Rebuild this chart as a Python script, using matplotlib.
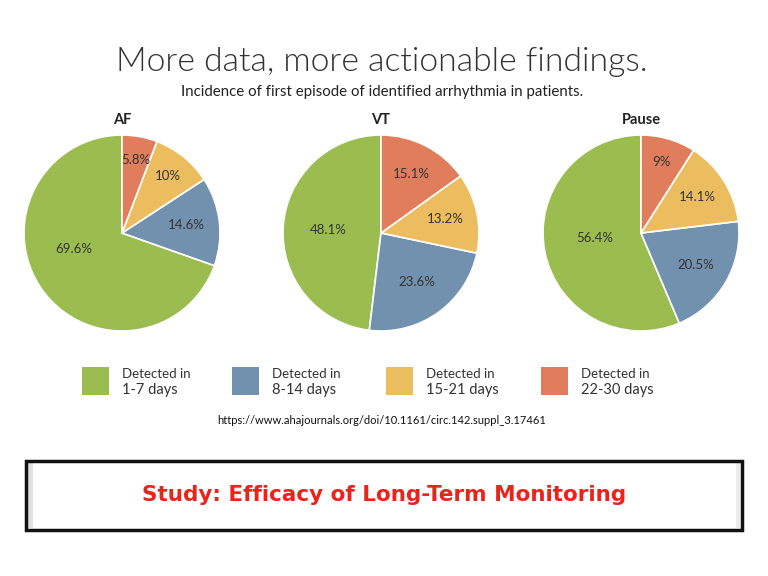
import matplotlib
matplotlib.use("Agg")
import matplotlib.pyplot as plt
from matplotlib.patches import Rectangle
import numpy as np

# ---- data ----
charts = ["AF", "VT", "Pause"]
categories = ["1-7 days", "8-14 days", "15-21 days", "22-30 days"]
af_values = [69.6, 14.6, 10, 5.8]
vt_values = [48.1, 23.6, 13.2, 15.1]
pause_values = [56.4, 20.5, 14.1, 9]
all_values = [af_values, vt_values, pause_values]

colors = ["#9bbd4f", "#7291ae", "#ebbd5e", "#e07d5c"]
label_dist = [[0.52, 0.66, 0.75, 0.76],
              [0.54, 0.62, 0.67, 0.68],
              [0.48, 0.65, 0.68, 0.75]]
label_shift = [[-17, 0, 0, 0],
               [0, 0, 0, 0],
               [-5, 0, 0, 0]]

W, H = 768, 576
fig = plt.figure(figsize=(W / 100, H / 100), dpi=100)
fig.patch.set_facecolor("white")

def fx(x):
    return x / W

def fy(y):
    return 1 - y / H

fig.text(fx(382), fy(62), "More data, more actionable findings.", ha="center", va="center",
         fontsize=24.3, family="Lato", fontweight=300, color="#333333")
fig.text(fx(382), fy(92), "Incidence of first episode of identified arrhythmia in patients.",
         ha="center", va="center", fontsize=10.8, family="Lato", color="#222222")

centers_x = [122, 381, 641]
cy = 233
r = 98
for i, (name, vals) in enumerate(zip(charts, all_values)):
    ax = fig.add_axes([fx(centers_x[i] - r), fy(cy + r), 2 * r / W, 2 * r / H])
    wedges, texts = ax.pie(
        vals, colors=colors, startangle=90, counterclock=True,
        wedgeprops=dict(edgecolor="white", linewidth=1.2))
    for w, d, s, v in zip(wedges, label_dist[i], label_shift[i], vals):
        ang = np.deg2rad((w.theta1 + w.theta2) / 2 + s)
        ax.text(d * np.cos(ang), d * np.sin(ang), f"{v:g}%", ha="center", va="center",
                fontsize=9.5, family="Lato", color="#333333")
    ax.set_xlim(-1, 1)
    ax.set_ylim(-1, 1)
    ax.set_aspect("equal")
    ax.axis("off")
    fig.text(fx(centers_x[i]), fy(120), name, ha="center", va="center",
             fontsize=10.5, family="Lato", fontweight="bold", color="#222222")

# legend
leg_x = [82, 232, 386, 541]
for lx, c, cat in zip(leg_x, colors, categories):
    fig.patches.append(Rectangle((fx(lx), fy(395)), 27 / W, 28 / H, transform=fig.transFigure,
                                 facecolor=c, edgecolor="none"))
    fig.text(fx(lx + 40), fy(374), "Detected in", ha="left", va="center",
             fontsize=9.5, family="Lato", color="#333333")
    fig.text(fx(lx + 40), fy(390), cat, ha="left", va="center",
             fontsize=10.5, family="Lato", color="#333333")

fig.text(fx(382), fy(420), "https://www.ahajournals.org/doi/10.1161/circ.142.suppl_3.17461",
         ha="center", va="center", fontsize=8, family="Lato", color="#111111")

# bottom box
fig.patches.append(Rectangle((fx(28), fy(528)), 5 / W, 65 / H, transform=fig.transFigure,
                             facecolor="#e0e0e0", edgecolor="none"))
fig.patches.append(Rectangle((fx(736), fy(528)), 4 / W, 65 / H, transform=fig.transFigure,
                             facecolor="#ececec", edgecolor="none"))
fig.patches.append(Rectangle((fx(26), fy(530)), 716 / W, 69 / H, transform=fig.transFigure,
                             facecolor="none", edgecolor="#111111", linewidth=2.5))
fig.text(fx(384), fy(495), "Study: Efficacy of Long-Term Monitoring", ha="center", va="center",
         fontsize=15.5, family="DejaVu Sans", fontweight="bold", color="#e8241b")

fig.savefig("out.png", dpi=100, facecolor="white")
